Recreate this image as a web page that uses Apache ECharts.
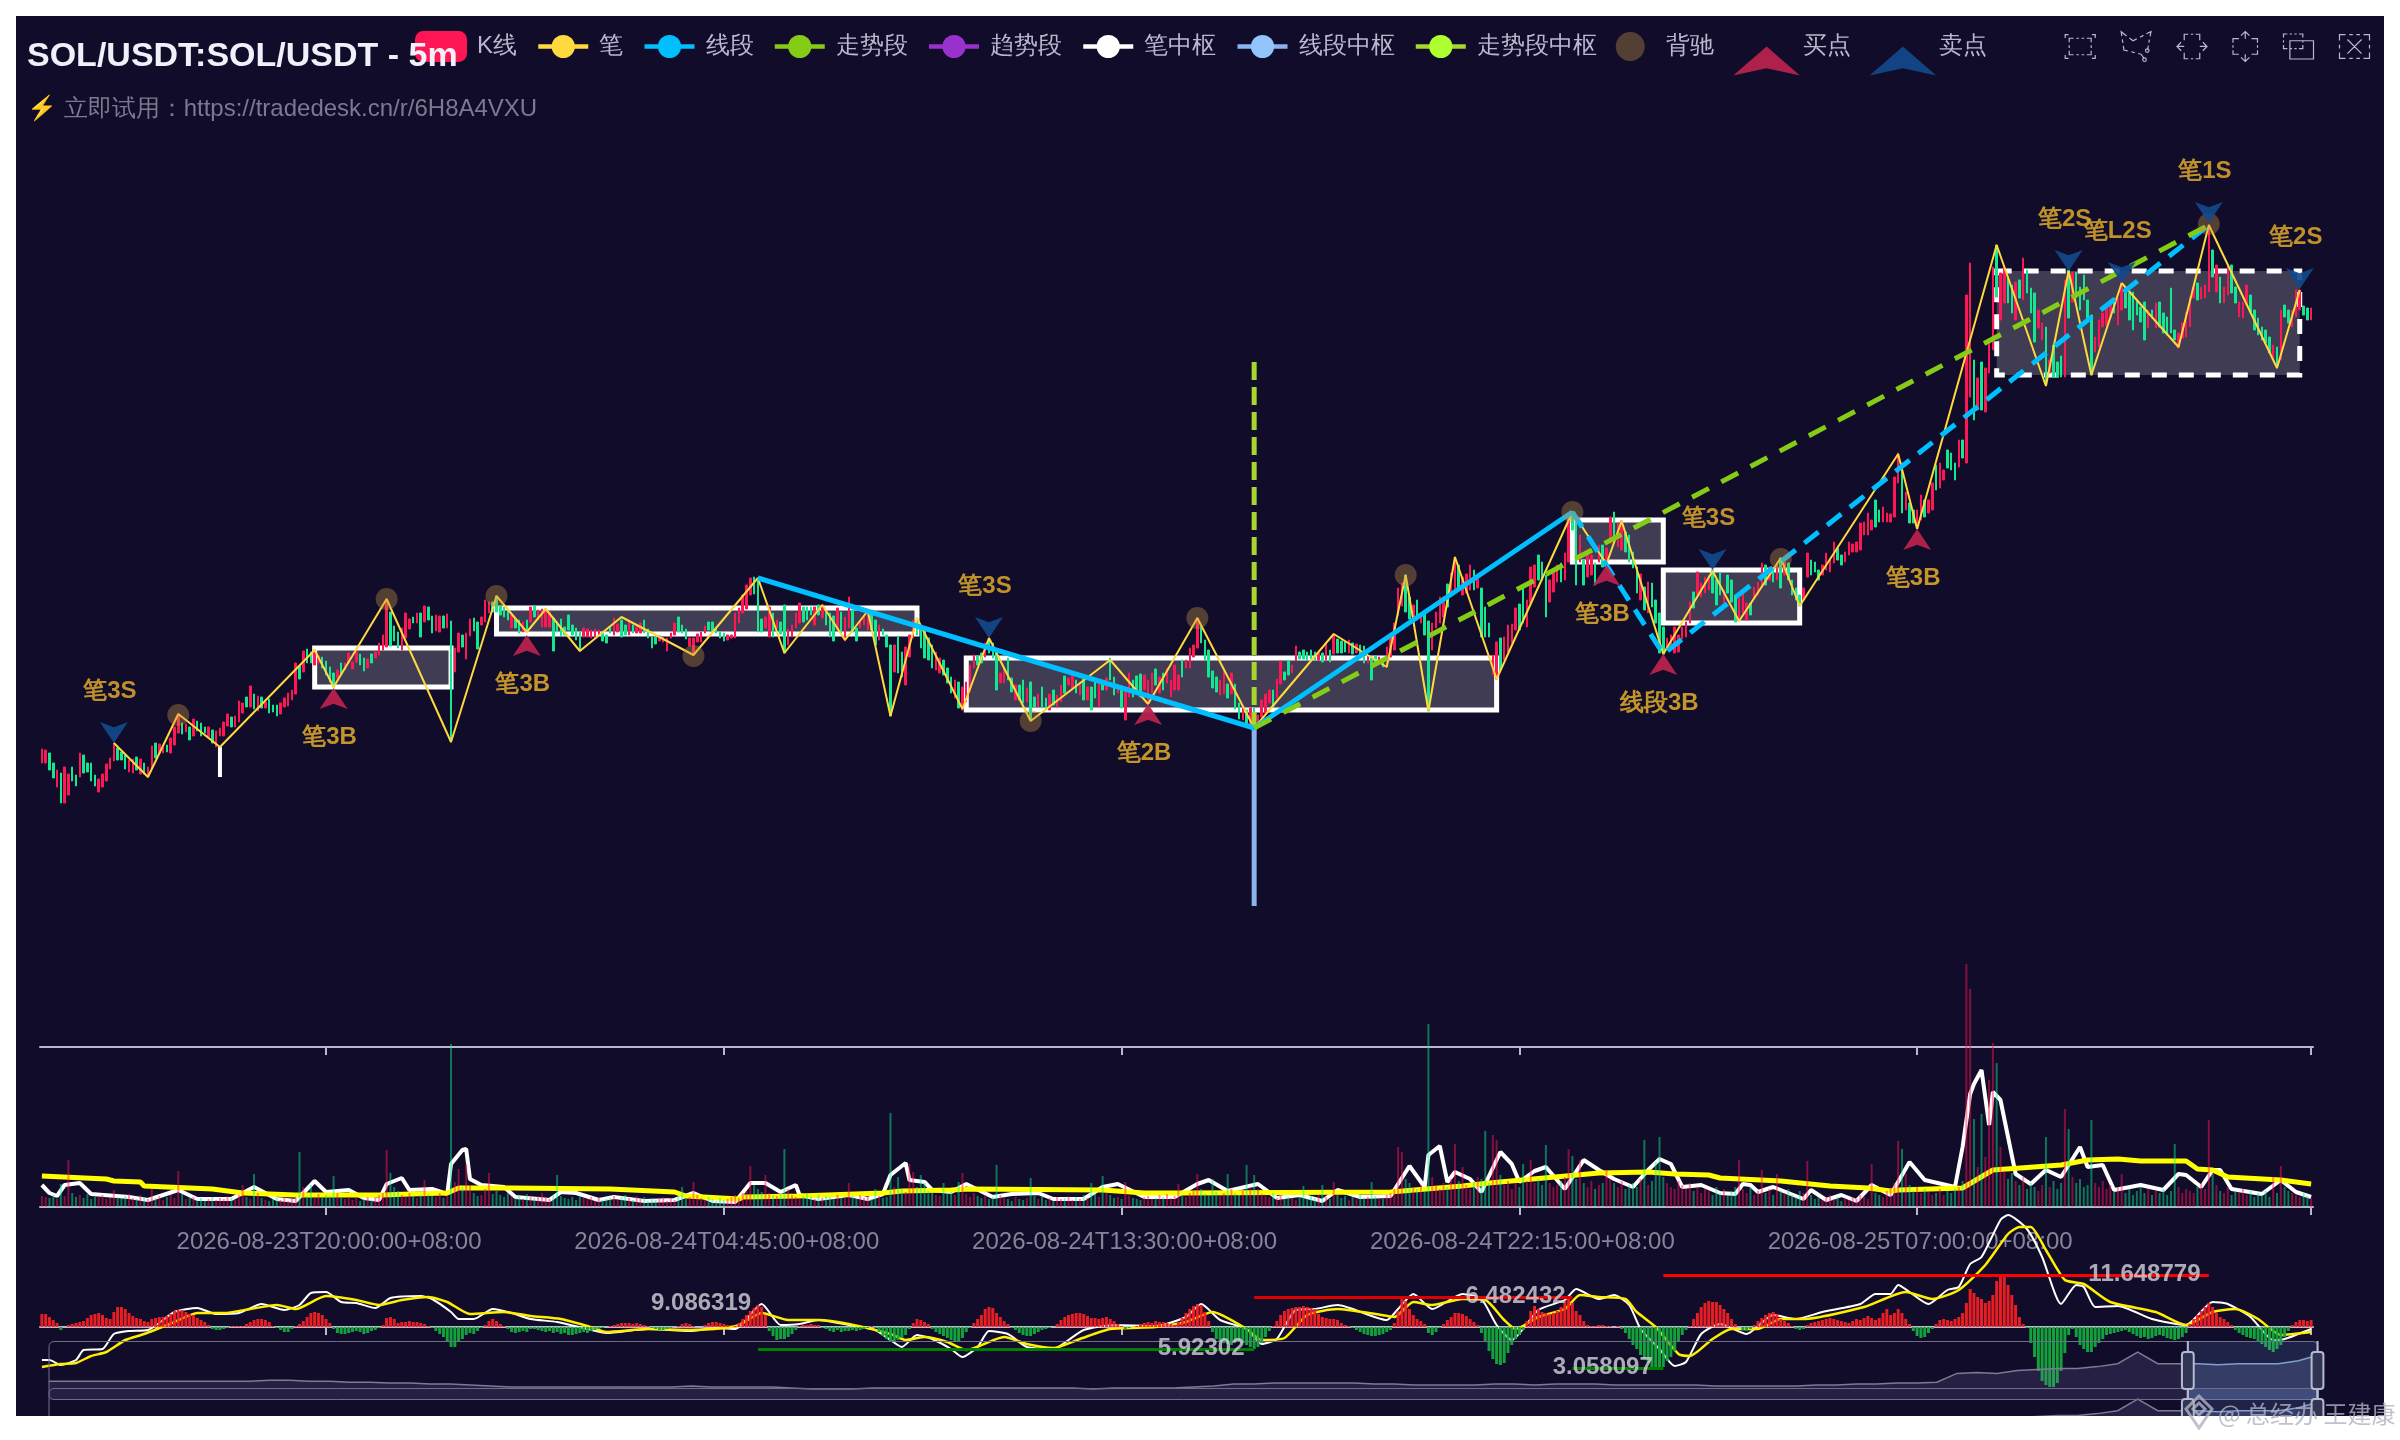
<!DOCTYPE html>
<html><head><meta charset="utf-8">
<script src="https://cdn.jsdelivr.net/npm/echarts@6/dist/echarts.min.js"></script>
<style>
html,body{margin:0;padding:0;background:#fff;width:2400px;height:1440px;overflow:hidden}
#chart{position:absolute;left:16px;top:16px;width:2368px;height:1400px;overflow:hidden}
#mark{position:absolute;left:2184px;top:1392px;height:40px;display:flex;align-items:center;gap:4px;font:24px "Noto Sans CJK SC",sans-serif;color:rgba(178,178,192,.8);white-space:nowrap}
</style></head><body>
<div id="chart"></div>
<div id="mark"><svg width="30" height="36" viewBox="0 0 30 36"><path d="M15 2 L28 15 L15 34 L2 15 Z M15 9 L21 15 L15 21 L9 15 Z" fill="none" stroke="rgba(178,178,192,.8)" stroke-width="3"/></svg><span>@ 总经办 王建康</span></div>
<script>
const opens=[
237,237,247,237,213,227,197,205,233,225,223,245,237,237,225,208,213,219,231,239,
252,248,245,228,227,243,226,237,223,232,257,247,247,255,247,255,267,277,268,273,
264,279,277,273,263,270,253,264,264,274,283,273,278,287,303,293,306,289,303,292,
301,295,295,286,293,294,300,306,334,328,351,348,335,337,343,339,333,327,322,337,
330,337,331,338,346,342,332,346,342,345,350,353,388,374,368,350,362,371,383,377,
387,378,393,384,369,368,384,372,379,328,348,365,341,364,382,378,375,378,387,398,
404,394,393,390,372,381,380,368,380,378,394,380,373,373,373,382,378,381,373,385,
375,372,368,363,363,362,362,364,367,365,373,365,368,380,375,365,375,367,367,380,
371,363,363,359,358,349,362,365,383,375,371,354,345,358,358,367,378,378,372,368,
367,360,362,362,377,387,391,405,423,422,381,372,363,387,372,378,395,355,363,372,
377,393,393,393,375,395,382,388,387,384,370,388,359,372,390,372,372,375,370,387,
380,360,371,365,355,328,363,348,315,343,362,382,373,373,362,355,330,327,340,332,
323,302,318,290,298,308,332,344,347,343,362,357,347,317,317,342,322,300,315,320,
298,318,303,293,313,302,290,310,293,298,324,315,312,320,305,323,300,313,318,293,
317,310,342,323,307,310,280,303,320,324,326,310,297,307,331,307,327,317,303,310,
310,340,332,332,343,352,375,360,350,329,323,305,306,316,306,316,297,280,290,276,
292,275,283,287,297,310,302,316,328,339,327,339,348,350,348,350,348,340,347,340,
350,346,361,359,358,347,357,347,355,354,337,343,344,337,340,333,343,350,385,394,
425,403,382,400,377,388,379,350,372,377,383,416,408,407,435,405,407,410,430,412,
412,393,377,325,321,362,340,348,357,370,396,413,373,397,413,445,438,425,398,408,
418,437,420,438,488,477,438,440,423,425,437,438,455,436,457,488,453,450,468,465,
448,433,400,413,387,417,400,387,373,352,353,347,348,361,363,377,408,405,403,407,
410,430,420,427,397,425,420,405,379,387,380,397,402,405,413,435,420,430,420,442,
425,437,420,412,405,400,423,440,438,430,425,430,428,437,452,445,438,445,448,448,
450,465,465,470,500,490,478,478,478,483,517,537,490,497,490,472,480,500,487,490,
535,512,520,550,547,537,533,560,537,603,640,590,638,588,627,650,755,680,697,722,
715,680,720,700,730,712,707,672,660,673,627,655,638,644,623,730,698,728,713,725,
700,685,648,653,673,675,682,702,675,690,712,707,708,700,693,698,672,690,672,698,
687,683,712,670,652,662,663,673,702,717,701,702,708,750,708,723,697,705,735,713,
683,682,695,705,690,682,673,670,663,640,653,640,695,690,673,683,690,694,692,680];
const closes=[
251,250,230,222,230,197,233,226,219,214,247,227,228,219,214,221,226,236,242,257,
240,240,231,240,241,230,241,226,233,254,242,256,254,248,262,273,286,266,276,260,
281,269,264,267,273,257,269,272,278,286,273,284,299,297,293,314,291,304,292,298,
287,288,284,297,302,307,310,337,321,349,337,337,350,344,332,325,318,313,330,325,
337,347,338,348,335,329,341,337,348,357,365,401,354,359,352,372,387,381,377,387,
363,394,380,367,385,384,372,386,258,352,367,353,367,381,369,351,383,400,398,388,
388,385,383,380,385,372,367,378,368,393,383,390,391,391,388,349,368,364,365,370,
365,360,349,372,371,370,371,370,359,357,367,382,376,363,365,378,367,373,377,367,
362,352,356,364,363,362,367,377,368,367,361,362,362,366,368,374,370,368,367,362,
359,365,365,387,392,405,415,422,406,368,368,383,393,363,380,366,347,371,375,387,
397,378,380,385,393,385,395,375,363,359,392,367,383,403,368,359,380,385,389,370,
355,375,365,353,284,355,327,323,353,365,380,365,352,342,340,332,348,342,325,317,
307,320,292,313,318,335,345,335,337,357,347,342,310,327,333,320,308,315,300,297,
312,280,293,306,292,290,306,295,305,315,307,322,325,307,318,300,313,290,302,318,
310,322,320,305,315,292,310,327,303,310,303,325,320,327,315,323,310,332,320,335,
325,323,340,352,355,382,357,340,323,312,308,320,329,302,327,291,281,292,276,292,
271,285,300,306,310,293,321,339,320,325,335,354,341,341,340,341,340,347,338,358,
338,366,347,347,348,360,346,356,343,337,344,320,335,343,333,353,363,377,412,417,
388,381,395,380,385,365,289,377,388,403,403,393,427,443,413,423,426,435,410,422,
363,363,363,345,358,330,363,375,376,392,370,377,400,433,435,420,420,383,420,427,
435,418,447,482,470,415,465,415,450,445,415,455,433,452,483,462,477,479,448,438,
432,407,426,390,418,393,377,347,346,362,365,373,365,373,378,398,392,428,417,423,
425,407,395,405,410,407,398,378,402,407,397,385,413,418,437,415,433,418,436,412,
438,420,405,400,394,412,447,425,428,420,435,447,440,458,440,435,448,458,456,458,
477,478,487,480,473,478,493,487,486,523,547,487,508,477,477,490,505,483,500,517,
510,537,530,532,530,520,560,542,705,737,580,622,590,632,657,733,703,727,732,697,
687,718,702,742,707,687,658,690,677,615,640,623,623,623,720,682,728,702,690,700,
682,625,663,680,687,692,695,687,702,717,692,680,670,685,678,660,690,682,697,673,
667,665,667,660,667,677,688,703,713,700,713,715,775,723,735,697,713,735,707,697,
698,698,715,688,670,665,660,657,647,655,632,690,683,677,690,710,710,685,680,692];
const volumes=[
11,10,9,12,8,23,11,47,14,10,12,9,13,8,10,11,12,8,9,17,10,9,11,13,9,8,12,10,8,18,
9,11,7,10,12,9,36,13,8,9,10,7,9,6,8,10,7,9,8,11,9,7,12,22,10,8,33,14,9,7,
6,8,9,7,10,6,8,9,55,20,11,22,10,13,9,12,11,31,14,9,8,10,7,9,6,8,10,7,9,12,
14,57,34,20,16,12,10,14,11,9,12,27,13,11,10,14,9,12,163,25,38,20,43,22,14,11,12,18,34,13,
16,12,10,14,11,9,12,8,13,10,9,11,14,10,8,12,32,11,9,8,10,7,11,9,8,10,6,9,7,8,
9,11,8,10,12,9,7,11,8,10,6,9,7,8,10,6,9,7,11,20,8,10,25,12,9,7,10,8,6,9,
7,8,10,12,9,14,16,41,22,18,15,32,14,12,11,13,58,18,12,10,9,11,13,10,8,12,9,11,10,8,
12,9,10,24,11,8,12,9,10,8,18,11,9,10,94,20,30,18,15,43,35,20,32,24,16,14,12,11,24,14,
15,12,25,34,13,10,14,11,9,12,8,10,42,12,9,8,6,10,8,7,9,29,11,8,10,7,9,6,10,8,
9,11,7,10,8,12,9,24,13,10,31,14,12,9,10,8,25,11,9,8,7,10,11,8,9,12,10,13,9,11,
23,12,10,14,16,33,18,13,12,28,15,12,14,33,18,14,12,16,42,20,32,18,13,11,10,14,9,11,8,10,
9,7,10,21,8,11,9,12,22,10,8,25,12,9,11,7,10,8,12,9,10,25,11,9,8,12,14,18,60,55,
28,24,20,18,22,16,183,30,22,18,24,20,28,63,26,40,22,18,25,30,28,76,24,72,67,32,22,26,18,24,
20,43,26,47,24,28,22,62,24,20,22,26,30,58,51,28,47,24,20,26,18,22,24,37,28,24,20,26,18,22,
24,20,28,67,22,26,45,70,30,24,20,18,26,22,18,24,16,20,14,18,16,12,20,14,18,12,16,20,47,18,
14,20,12,16,37,14,18,12,33,16,14,18,12,10,16,14,46,12,8,10,7,9,12,8,10,6,9,7,10,8,
12,10,8,43,14,12,10,16,18,24,66,58,33,22,16,20,14,18,15,12,14,18,12,16,14,18,20,26,243,218,
88,40,93,50,127,164,144,60,36,28,34,26,22,30,18,24,20,16,22,70,20,26,18,24,98,78,30,24,28,20,
22,87,24,20,26,18,22,16,20,33,14,18,12,16,20,14,18,12,16,14,18,12,16,63,20,14,18,16,14,20,
24,18,87,33,22,16,14,20,12,16,14,18,12,16,10,14,12,16,10,30,14,41,20,16,14,12,10,14,11,9];
const macdHist=[
13,13,10,7,4,-3,0,2,3,4,5,6,9,12,13,14,12,9,8,15,20,20,18,14,11,9,8,6,5,8,
9,10,10,11,13,16,17,17,15,13,12,9,7,5,2,-2,-3,-3,-2,-1,1,1,1,1,3,5,7,8,8,7,
5,1,-1,-3,-5,-5,-2,1,3,6,10,14,15,14,12,8,4,-2,-6,-7,-7,-6,-5,-4,-5,-7,-6,-4,-3,-1,
2,9,10,8,4,5,5,6,5,5,4,3,1,-1,-4,-7,-10,-15,-20,-20,-15,-12,-8,-6,-7,-4,-1,2,6,8,
6,3,1,-2,-5,-6,-5,-4,-5,-2,-2,-3,-4,-5,-4,-6,-5,-7,-6,-8,-8,-7,-6,-5,-6,-4,-3,-2,-1,0,
1,2,3,4,4,4,3,4,3,2,1,-1,-2,-3,-3,-2,-1,0,1,3,4,3,1,0,0,2,4,5,5,4,
3,2,0,1,4,8,12,16,19,22,20,12,-4,-9,-13,-12,-12,-10,-7,-3,1,2,2,3,2,2,-1,-2,-4,-5,
-3,-5,-4,-4,-3,-4,-3,-2,-1,1,-1,-5,-9,-12,-14,-14,-13,-11,-8,-2,4,8,7,5,3,-2,-5,-7,-9,-11,
-13,-14,-14,-11,-5,-1,4,8,12,18,20,19,14,10,6,3,-1,-3,-6,-8,-9,-9,-7,-5,-3,-2,-1,0,3,7,
10,12,13,14,14,13,11,9,9,8,9,10,8,6,3,1,-2,-1,0,1,3,4,5,4,6,5,5,4,3,2,
5,9,14,18,21,23,22,15,6,-5,-12,-15,-16,-17,-18,-15,-14,-16,-18,-20,-22,-20,-16,-10,-4,1,6,12,16,18,
19,20,20,21,20,19,18,13,10,9,8,8,7,4,2,1,-1,-3,-5,-7,-8,-9,-9,-8,-7,-5,-3,4,16,28,
26,18,12,8,6,3,-6,-8,-5,-1,3,7,10,14,14,13,11,8,5,2,-6,-14,-24,-32,-37,-38,-36,-26,-18,-12,
-8,-3,6,16,21,18,15,14,13,14,16,20,26,30,24,16,12,6,2,1,1,2,2,1,1,0,1,-2,-6,-12,
-18,-22,-28,-32,-36,-40,-42,-42,-40,-34,-30,-24,-14,-8,-3,1,8,14,20,24,26,25,25,22,18,14,8,3,0,-3,
-4,-2,2,6,9,12,14,15,13,8,6,4,1,-2,-3,-2,2,4,5,6,7,8,9,8,7,6,5,4,6,8,
7,9,11,9,7,9,14,18,12,14,18,14,8,3,-4,-9,-11,-10,-6,-2,3,7,8,7,6,8,10,14,24,38,
34,30,28,24,26,32,46,52,50,42,32,22,10,3,-1,-16,-30,-44,-54,-58,-60,-60,-56,-44,-26,-8,-2,-10,-18,-22,
-25,-25,-20,-16,-12,-8,-7,-6,-5,-4,-3,-5,-7,-9,-11,-10,-12,-11,-9,-8,-9,-11,-12,-13,-12,-10,-6,3,8,12,
16,20,24,20,14,10,8,5,2,-3,-6,-8,-10,-11,-12,-14,-17,-20,-23,-25,-22,-18,-10,-4,2,5,7,7,6,7];
const biPoints=[[19,257],[28,223],[36,286],[47,253],[72,350],[77,313],[91,401],[108,258],[120,404],[128,368],[133,391],[142,349],[153,383],[172,345],[189,422],[196,347],[206,395],[212,360],[218,389],[224,284],[231,382],[243,291],[250,362],[261,279],[282,340],[292,296],[305,382],[320,272],[341,366],[355,333],[360,425],[366,289],[373,443],[384,321],[404,488],[413,436],[417,479],[428,346],[441,429],[448,379],[459,442],[464,394],[490,546],[495,471],[516,755],[529,614],[535,729],[541,625],[549,717],[564,653],[572,775],[590,632],[596,710]];
const segmentSolid=[[189,422],[320,272],[404,488]];
const segmentDashed=[[404,488],[428,346],[572,775]];
const trendSegment=[[320,272],[572,775]];
const biPivots=[[72,108,352,313],[120,231,392,366],[244,384,342,290],[404,428,480,438],[428,464,430,377]];
const biPivotDashed=[[516,596,729,625]];
const biPivotFlat=[[47,253],[47,223]];
const segmentPivotFlat=[[320,270],[320,94]];
const trendPivotFlat=[[320,638],[320,270]];
const divergence=[[36,285],[91,401],[120,404],[172,344],[261,279],[305,382],[360,425],[404,488],[459,441],[572,776]];
const buyPoints=[['笔3B',77,312],['笔3B',128,365],['笔2B',292,296],['笔3B',413,435],['线段3B',428,346],['笔3B',495,471]];
const sellPoints=[['笔3S',19,257],['笔3S',250,362],['笔3S',441,430],['笔2S',535,729],['笔L2S',549,717],['笔1S',572,777],['笔2S',596,711]];
const volFast=[[0,22],[2,14],[4,11],[6,22],[10,24],[13,13],[23,10],[28,7],[32,12],[36,17],[41,8],[50,8],[56,20],[62,8],[67,6],[70,18],[72,26],[75,15],[81,17],[85,9],[89,7],[91,23],[95,29],[97,17],[103,18],[107,13],[108,43],[111,57],[112,58],[113,28],[116,22],[122,20],[125,10],[134,7],[137,15],[141,14],[147,7],[151,10],[159,6],[167,7],[172,14],[177,6],[183,5],[187,24],[191,24],[195,15],[199,22],[200,12],[205,8],[213,12],[218,8],[222,13],[224,32],[228,44],[229,27],[233,25],[235,17],[240,15],[244,23],[251,10],[256,13],[263,14],[267,8],[275,8],[280,20],[284,23],[291,10],[299,10],[305,23],[308,27],[313,16],[321,23],[326,9],[332,12],[338,6],[342,17],[348,10],[356,11],[361,41],[365,20],[366,52],[369,61],[371,25],[373,35],[377,28],[380,15],[385,55],[388,43],[390,25],[394,36],[397,40],[402,18],[407,47],[411,37],[415,28],[420,20],[424,37],[427,48],[430,43],[433,20],[438,22],[443,14],[447,13],[449,23],[451,22],[453,15],[457,20],[465,8],[467,17],[471,7],[475,12],[479,6],[483,22],[488,12],[493,45],[497,27],[505,20],[507,60],[509,113],[510,123],[512,137],[514,82],[515,115],[517,107],[521,33],[525,23],[529,37],[533,30],[538,60],[540,40],[544,42],[547,17],[554,22],[560,17],[564,33],[566,32],[570,20],[573,37],[575,37],[578,18],[586,13],[591,27],[595,15],[599,10]];
const volSlow=[[0,31],[17,28],[19,26],[26,25],[27,21],[45,18],[53,14],[67,12],[90,12],[97,13],[107,14],[110,19],[124,19],[150,18],[167,15],[170,11],[184,8],[185,10],[200,11],[222,14],[227,16],[240,17],[245,18],[280,17],[291,14],[301,14],[356,15],[375,21],[382,24],[411,34],[424,35],[431,33],[440,32],[443,29],[459,26],[472,21],[482,19],[488,16],[490,17],[507,19],[515,37],[533,42],[540,47],[548,48],[554,46],[566,46],[569,38],[573,37],[577,30],[591,27],[599,23]];
const macdDif=[[0,-33],[2,-33],[5,-38],[9,-33],[11,-23],[16,-22],[19,-7],[23,-4],[28,-3],[35,15],[41,19],[46,13],[52,14],[58,23],[64,17],[68,22],[71,34],[75,35],[79,25],[83,24],[88,19],[92,29],[100,31],[103,28],[108,15],[110,8],[114,8],[119,18],[124,14],[129,8],[136,5],[144,-2],[149,-6],[160,-2],[171,-4],[178,-1],[183,-2],[190,23],[195,2],[200,3],[205,7],[213,2],[220,-3],[224,-13],[227,-20],[231,-8],[235,-12],[240,-22],[243,-30],[247,-20],[250,-4],[255,-7],[260,-20],[267,-22],[271,-13],[275,-3],[283,2],[294,1],[302,10],[306,23],[311,7],[318,-2],[322,-17],[326,-12],[331,17],[336,18],[342,22],[355,7],[358,18],[362,33],[367,18],[375,33],[380,28],[384,2],[388,-13],[395,17],[402,27],[405,38],[411,28],[415,32],[419,22],[422,-2],[427,-22],[431,-39],[434,-35],[438,-7],[443,3],[450,-7],[457,12],[463,8],[470,15],[480,23],[484,33],[488,33],[490,42],[493,35],[498,23],[503,37],[506,40],[509,63],[512,70],[517,107],[519,112],[524,98],[528,70],[533,23],[537,42],[539,40],[542,20],[548,21],[557,8],[566,2],[573,25],[577,23],[583,10],[589,-13],[592,-12],[599,-2]];
const macdDea=[[0,-40],[5,-37],[9,-36],[13,-29],[17,-25],[22,-13],[27,-7],[35,5],[41,14],[48,14],[55,18],[62,22],[67,18],[75,31],[83,27],[89,22],[95,27],[102,30],[107,25],[113,13],[122,15],[129,11],[137,8],[144,1],[149,-5],[160,-2],[171,-3],[180,-1],[184,2],[190,14],[197,7],[205,7],[213,3],[224,-7],[228,-13],[233,-10],[239,-15],[244,-23],[254,-10],[260,-17],[267,-21],[274,-12],[282,-2],[294,0],[302,5],[309,15],[318,-2],[322,-13],[328,-11],[334,12],[342,18],[352,13],[357,10],[362,25],[367,22],[375,28],[381,27],[386,7],[389,-2],[395,10],[402,18],[406,32],[411,30],[418,28],[421,15],[426,0],[432,-27],[435,-29],[441,-12],[446,-2],[453,-2],[459,8],[465,8],[481,20],[492,35],[499,28],[506,37],[513,62],[519,93],[522,100],[525,100],[529,77],[534,47],[539,43],[546,25],[558,15],[566,2],[573,15],[579,18],[585,8],[591,-8],[599,-5]];
const macdLevels=[[189,320,-22,'#008000'],[320,404,30,'#e00000'],[404,428,-41,'#008000'],[428,572,52,'#ff0000']];
const macdTexts=[['9.086319',174,24],['5.92302',306,-21],['6.482432',389,31],['3.058097',412,-40],['11.648779',555,53]];
const overview=[20,20,20,20,20,20,20,20,20,20,20,21,21,20,20,19,19,18,18,17,17,16,15,14,14,14,14,14,14,14,14,14,15,14,14,14,14,13,12,12,12,13,13,13,13,13,13,13,13,13,13,13,12,13,13,13,13,14,15,17,17,18,18,18,18,18,17,17,16,16,16,16,17,17,16,17,17,17,16,16,16,16,16,15,15,15,15,15,16,16,17,17,18,18,19,28,29,28,31,32,33,33,35,38,50,38,38,38,37,38,38,38,41,47];
const labelIndexes=[75,180,285,390,495];
const legendNames=['K线','笔','线段','走势段','趋势段','笔中枢','线段中枢','走势段中枢','背驰','买点','卖点'];

const UP='#ff1654',DOWN='#12e890',GOLD='#cf9d2b';
const times=opens.map((_,i)=>new Date(Date.UTC(2026,7,23,13,45)+i*300000).toISOString().slice(0,19)+'+08:00');
const candles=opens.map((o,i)=>[o,closes[i],Math.min(o,closes[i]),Math.max(o,closes[i])]);
const tickFn=i=>labelIndexes.includes(i)||i===599;
const labelFn=i=>labelIndexes.includes(i);
const xBase=(grid,label,onZero)=>({type:'category',gridIndex:grid,data:times,
  axisLine:{show:true,onZero,lineStyle:{color:'#B9B8CE',width:2}},
  axisTick:{show:true,interval:tickFn,alignWithLabel:true,length:8,lineStyle:{color:'#B9B8CE',width:2}},
  splitLine:{show:false},
  axisLabel:label?{show:true,interval:labelFn,margin:23,fontSize:24,color:'#85849a',padding:[0,0,0,6]}:{show:false}});
const yBase=(grid,min,max)=>({type:'value',gridIndex:grid,min,max,show:false,splitLine:{show:false}});
const lineCommon={symbol:'circle',symbolSize:0,showSymbol:false,clip:false,silent:true,animation:false};
const pivotArea=(list,dashed)=>list.map(b=>[
  {coord:[b[0],b[2]],itemStyle:{color:'rgba(255,255,255,0.2)',borderColor:'#fff',borderWidth:5,borderType:dashed?[15,12]:'solid'}},
  {coord:[b[1],b[3]]}]);

const series=[
 {name:'笔中枢',type:'line',...lineCommon,z:1,data:biPivotFlat,itemStyle:{color:'#fff'},lineStyle:{color:'#fff',width:4},
  markArea:{silent:true,animation:false,data:pivotArea(biPivots,false).concat(pivotArea(biPivotDashed,true))}},
 {name:'K线',type:'candlestick',large:false,xAxisIndex:0,yAxisIndex:0,z:2,barWidth:2,animation:false,silent:true,data:candles,
  itemStyle:{color:UP,color0:DOWN,borderColor:UP,borderColor0:DOWN,borderWidth:1}},
 {name:'笔',type:'line',...lineCommon,z:3,data:biPoints,itemStyle:{color:'#ffd93d'},lineStyle:{color:'#ffd93d',width:2}},
 {name:'线段',type:'line',...lineCommon,z:4,data:segmentSolid,itemStyle:{color:'#00bfff'},lineStyle:{color:'#00bfff',width:5}},
 {name:'线段',type:'line',...lineCommon,z:4,data:segmentDashed,itemStyle:{color:'#00bfff'},lineStyle:{color:'#00bfff',width:5,type:[18,11]}},
 {name:'走势段',type:'line',...lineCommon,z:4,data:trendSegment,itemStyle:{color:'#84cc16'},lineStyle:{color:'#84cc16',width:5,type:[19,14]}},
 {name:'趋势段',type:'line',...lineCommon,z:4,data:[],itemStyle:{color:'#9932cc'},lineStyle:{color:'#9932cc',width:4}},
 {name:'线段中枢',type:'line',...lineCommon,z:3,data:segmentPivotFlat,itemStyle:{color:'#93c5fd'},lineStyle:{color:'#8ab4f0',width:5}},
 {name:'走势段中枢',type:'line',...lineCommon,z:3,data:trendPivotFlat,itemStyle:{color:'#adff2f'},lineStyle:{color:'#a8d62c',width:5,type:[18,7]}},
 {name:'背驰',type:'scatter',z:5,silent:true,animation:false,symbolSize:22,data:divergence,itemStyle:{color:'rgba(196,147,70,0.48)'}},
 {name:'买点',type:'scatter',z:6,silent:true,animation:false,symbol:'arrow',symbolSize:21,
  data:buyPoints.map(p=>({name:p[0],value:[p[1],p[2]]})),itemStyle:{color:'#b8224c',opacity:0.95},
  label:{show:true,position:'inside',offset:[-4,39],formatter:'{b}',color:GOLD,fontSize:24,fontWeight:'bold'}},
 {name:'卖点',type:'scatter',z:6,silent:true,animation:false,symbol:'arrow',symbolRotate:180,symbolSize:21,
  data:sellPoints.map(p=>({name:p[0],value:[p[1],p[2]]})),itemStyle:{color:'#124a8c',opacity:0.92},
  label:{show:true,position:'inside',offset:[-4,-41],formatter:'{b}',color:GOLD,fontSize:24,fontWeight:'bold'}},
 {name:'量MA快',type:'line',...lineCommon,xAxisIndex:1,yAxisIndex:1,z:2,data:volFast,lineStyle:{color:'#fff',width:4}},
 {name:'量MA慢',type:'line',...lineCommon,xAxisIndex:1,yAxisIndex:1,z:2,data:volSlow,lineStyle:{color:'#ffff00',width:5}},
 {name:'成交量',type:'bar',xAxisIndex:1,yAxisIndex:1,z:3,barWidth:2,clip:false,silent:true,animation:false,large:false,
  data:volumes.map((v,i)=>({value:v,itemStyle:{color:closes[i]>=opens[i]?'rgba(255,22,84,0.48)':'rgba(18,232,144,0.48)'}}))},
 {name:'DIF',type:'line',...lineCommon,xAxisIndex:2,yAxisIndex:2,z:2,data:macdDif,smooth:0.2,lineStyle:{color:'#fff',width:2}},
 {name:'DEA',type:'line',...lineCommon,xAxisIndex:2,yAxisIndex:2,z:2,data:macdDea,smooth:0.2,lineStyle:{color:'#ffee00',width:2.5}},
 {name:'MACD',type:'bar',xAxisIndex:2,yAxisIndex:2,z:3,barWidth:3,clip:false,silent:true,animation:false,large:false,
  data:macdHist.map(v=>({value:v,itemStyle:{color:v>=0?'rgba(243,32,36,0.95)':'rgba(20,166,60,0.97)'}})),
  markLine:{silent:true,animation:false,symbol:'none',label:{show:false},
   data:macdLevels.map(l=>[{coord:[l[0],l[2]],lineStyle:{color:l[3],width:3,type:'solid'}},{coord:[l[1],l[2]]}])}},
 {name:'极值',type:'scatter',xAxisIndex:2,yAxisIndex:2,z:8,silent:true,animation:false,symbolSize:1,itemStyle:{color:'rgba(0,0,0,0)'},
  data:macdTexts.map(t=>({name:t[0],value:[t[1],t[2]]})),
  label:{show:true,position:'inside',formatter:'{b}',color:'#d2d2da',fontSize:24,fontWeight:'bold'}},
 {name:'总览',type:'line',xAxisIndex:3,yAxisIndex:3,showSymbol:false,silent:true,animation:false,data:overview,lineStyle:{opacity:0}}
];

const sliderBase={type:'slider',xAxisIndex:3,start:94.2,end:100,left:30,width:2270,height:59,showDetail:false,filterMode:'none',
  showDataShadow:true,brushSelect:false,moveHandleSize:13,backgroundColor:'rgba(0,0,0,0)',borderColor:'#6f6e88',borderRadius:5,
  fillerColor:'rgba(135,175,255,0.14)',
  dataBackground:{lineStyle:{color:'#7c7b90',width:1.5,opacity:1},areaStyle:{color:'#8a80c0',opacity:0.18}},
  selectedDataBackground:{lineStyle:{color:'#7f9cc8',width:1.5},areaStyle:{color:'#8aa8e8',opacity:0.2}},
  handleStyle:{color:'#2f3553',borderColor:'#b8b9d0',borderWidth:2},
  moveHandleStyle:{color:'#4c4a60',opacity:0.8}};

const chart=echarts.init(document.getElementById('chart'),'dark',{renderer:'canvas'});
chart.setOption({
 backgroundColor:'#100c2a',animation:false,textStyle:{fontFamily:'sans-serif'},
 title:{left:11,top:24,padding:0,itemGap:23,z:10,text:'SOL/USDT:SOL/USDT - 5m',
  textStyle:{fontSize:34,fontWeight:'bold',color:'#eef1fa'},
  subtext:'{b|⚡} 立即试用：https://tradedesk.cn/r/6H8A4VXU',
  subtextStyle:{fontSize:24,color:'#7b7a90',rich:{b:{fontSize:24,color:'#a07f28'}}}},
 legend:{left:399,top:15,padding:0,width:1800,itemWidth:50,itemHeight:29,itemGap:19,symbolRotate:0,
  textStyle:{fontSize:24,color:'#B9B8CE',padding:[0,0,0,6]},lineStyle:{width:4.5,type:'solid'},selectedMode:false,
  data:legendNames},
 toolbox:{right:12,top:13,padding:0,itemSize:30,itemGap:21,iconStyle:{borderColor:'#B9B8CE',borderWidth:1.2},
  feature:{brush:{type:['rect','polygon','lineX','lineY','keep','clear']}}},
 brush:{xAxisIndex:0,throttleType:'debounce'},
 grid:[
  {left:24,top:84,width:2273,height:947,outerBoundsMode:'none'},
  {left:24,top:1031,width:2273,height:160,outerBoundsMode:'none'},
  {left:24,top:1211,width:2273,height:189,outerBoundsMode:'none'},
  {left:0,top:0,width:1,height:1,show:false,outerBoundsMode:'none'}],
 xAxis:[xBase(0,false,false),xBase(1,true,false),xBase(2,false,true),{type:'category',gridIndex:3,show:false,data:overview.map((_,i)=>i)}],
 yAxis:[yBase(0,-47,900),yBase(1,0,160),yBase(2,-89,100),{type:'value',gridIndex:3,show:false,splitLine:{show:false}}],
 dataZoom:[{...sliderBase,top:1325},{...sliderBase,top:1372}],
 series
});
</script>
</body></html>
